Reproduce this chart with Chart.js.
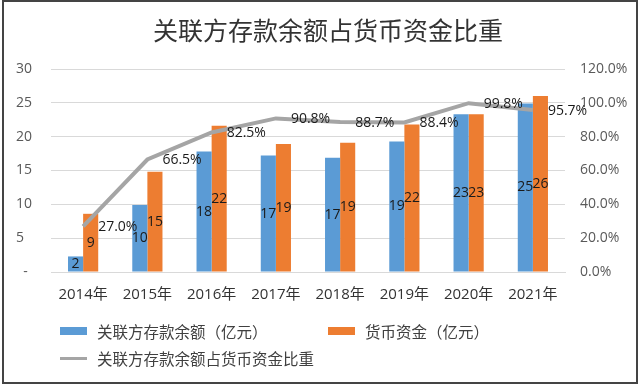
<!DOCTYPE html>
<html>
<head>
<meta charset="utf-8">
<script src="https://cdn.jsdelivr.net/npm/chart.js@4"></script>
<style>
  body { margin: 0; background: #fff; }
  #wrap { position: relative; width: 640px; height: 385px; }
  #frame { position: absolute; left: 2px; top: 0; width: 632px; height: 380px; border: 2px solid #444; pointer-events: none; }
  .lg { position: absolute; font: 15.5px "Noto Sans CJK SC", sans-serif; color: #404040; line-height: 20px; }
  .sw { position: absolute; width: 27px; }
</style>
</head>
<body>
<div id="wrap">
  <canvas id="depositChart" width="640" height="385"></canvas>
  <div class="sw" style="left:60px;top:327px;height:8px;background:#5b9bd5"></div>
  <div class="lg" style="left:97px;top:321px">关联方存款余额（亿元）</div>
  <div class="sw" style="left:328px;top:327px;height:8px;background:#ed7d31"></div>
  <div class="lg" style="left:365px;top:321px">货币资金（亿元）</div>
  <div class="sw" style="left:60px;top:357px;height:3px;background:#a5a5a5"></div>
  <div class="lg" style="left:97px;top:348px">关联方存款余额占货币资金比重</div>
  <div id="frame"></div>
</div>
<script>
const years = ['2014年', '2015年', '2016年', '2017年', '2018年', '2019年', '2020年', '2021年'];
const relatedDeposits = [2.3, 9.9, 17.8, 17.2, 16.9, 19.3, 23.3, 24.9];
const monetaryFunds = [8.6, 14.8, 21.6, 18.9, 19.1, 21.8, 23.3, 26.0];
const depositRatio = [27.0, 66.5, 82.5, 90.8, 88.7, 88.4, 99.8, 95.7];

const numFont = '"Open Sans", "Noto Sans CJK SC", sans-serif';

// draws the value labels on bars and next to line points
const valueLabels = {
    id: 'valueLabels',
    afterDatasetsDraw(chart) {
        const ctx = chart.ctx;
        ctx.save();
        ctx.font = '14px ' + numFont;
        ctx.fillStyle = '#1a1a1a';
        ctx.textBaseline = 'middle';
        chart.data.datasets.forEach((ds, i) => {
            const meta = chart.getDatasetMeta(i);
            meta.data.forEach((el, j) => {
                const v = ds.data[j];
                if (ds.type === 'line') {
                    ctx.textAlign = 'left';
                    ctx.fillText(v.toFixed(1) + '%', el.x + 15, el.y + 1);
                } else {
                    ctx.textAlign = 'center';
                    ctx.fillText(String(Math.round(v)), el.x, (el.y + el.base) / 2);
                }
            });
        });
        ctx.restore();
    }
};

const ctx = document.getElementById('depositChart').getContext('2d');
new Chart(ctx, {
    type: 'bar',
    data: {
        labels: years,
        datasets: [
            {
                type: 'line',
                label: '关联方存款余额占货币资金比重',
                data: depositRatio,
                yAxisID: 'y1',
                borderColor: '#a5a5a5',
                borderWidth: 4,
                pointRadius: 0,
                tension: 0,
                order: 0
            },
            {
                label: '关联方存款余额（亿元）',
                data: relatedDeposits,
                backgroundColor: '#5b9bd5',
                categoryPercentage: 0.47,
                barPercentage: 1.0,
                order: 1
            },
            {
                label: '货币资金（亿元）',
                data: monetaryFunds,
                backgroundColor: '#ed7d31',
                categoryPercentage: 0.47,
                barPercentage: 1.0,
                order: 1
            }
        ]
    },
    options: {
        responsive: false,
        animation: false,
        layout: { padding: { left: 16, right: 0, top: 0, bottom: 83 } },
        plugins: {
            legend: { display: false },
            tooltip: { enabled: false },
            title: {
                display: true,
                text: '关联方存款余额占货币资金比重',
                color: '#333',
                font: { size: 25, family: '"Noto Sans CJK SC", sans-serif', weight: 'normal', lineHeight: 1.2 },
                padding: { top: 15, bottom: 24 }
            }
        },
        scales: {
            x: {
                grid: { display: false, drawTicks: false },
                border: { color: '#d9d9d9' },
                ticks: { color: '#333', font: { size: 15, family: numFont }, padding: 14 },
                afterFit(axis) { axis.height = 30; }
            },
            y: {
                position: 'left',
                min: 0,
                max: 30,
                grid: { color: '#d9d9d9', drawTicks: false },
                border: { display: false },
                ticks: {
                    stepSize: 5,
                    color: '#595959',
                    font: { size: 14, family: numFont },
                    crossAlign: 'far',
                    callback: v => v === 0 ? '  -' : v
                },
                afterFit(axis) { axis.width = 35; }
            },
            y1: {
                position: 'right',
                min: 0,
                max: 120,
                grid: { display: false, drawTicks: false },
                border: { display: false },
                ticks: {
                    stepSize: 20,
                    color: '#595959',
                    font: { size: 14, family: numFont },
                    padding: 15,
                    callback: v => v.toFixed(1) + '%'
                },
                afterFit(axis) { axis.width = 75; }
            }
        }
    },
    plugins: [valueLabels]
});
</script>
</body>
</html>
